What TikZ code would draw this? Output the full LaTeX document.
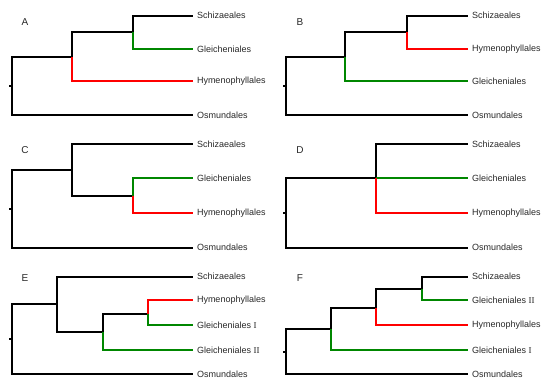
\documentclass[tikz,border=0pt]{standalone}
\usepackage{fontspec}
\setmainfont{Liberation Sans}
\newfontfamily\romnum{Liberation Serif}
\definecolor{tgreen}{RGB}{0,135,0}
\definecolor{tred}{RGB}{255,0,0}
\definecolor{ttext}{RGB}{40,40,40}
\begin{document}
\begin{tikzpicture}[x=1bp,y=-1bp,
  br/.style={line width=2bp,line join=miter},
  blk/.style={br,black},
  grn/.style={br,tgreen},
  rd/.style={br,tred},
  leaf/.style={anchor=west,inner xsep=3.5bp,inner ysep=0pt,text=ttext,font=\fontsize{9bp}{11bp}\selectfont},
  plabel/.style={text=ttext,inner sep=0pt,font=\fontsize{10bp}{12bp}\selectfont}]
\useasboundingbox (0,0) rectangle (550,386);

% ---------- Panel A ----------
\node[plabel] (labA) at (25,21.7) {A};
\coordinate (rA) at (11.7,86.2);
\coordinate (tA) at (8.7,86.2);
\coordinate (nA1) at (71.7,57.3);
\coordinate (nA2) at (133.3,32.3);
\node[leaf] (A1) at (193.3,15.7) {Schizaeales};
\node[leaf] (A2) at (193.3,49) {Gleicheniales};
\node[leaf] (A3) at (193.3,81) {Hymenophyllales};
\node[leaf] (A4) at (193.3,115) {Osmundales};
\draw[blk] (rA) -- (tA);
\draw[blk] (rA) |- (nA1);
\draw[blk] (rA) |- (A4.west);
\draw[blk] (nA1) |- (nA2);
\draw[rd] (nA1) |- (A3.west);
\draw[blk] (nA2) |- (A1.west);
\draw[grn] (nA2) |- (A2.west);

% ---------- Panel B ----------
\node[plabel] (labB) at (300,22) {B};
\coordinate (rB) at (285.7,86.2);
\coordinate (tB) at (282.7,86.2);
\coordinate (nB1) at (345,57.3);
\coordinate (nB2) at (406.7,32.3);
\node[leaf] (B1) at (468.3,15.7) {Schizaeales};
\node[leaf] (B2) at (468.3,49) {Hymenophyllales};
\node[leaf] (B3) at (468.3,81) {Gleicheniales};
\node[leaf] (B4) at (468.3,115) {Osmundales};
\draw[blk] (rB) -- (tB);
\draw[blk] (rB) |- (nB1);
\draw[blk] (rB) |- (B4.west);
\draw[blk] (nB1) |- (nB2);
\draw[grn] (nB1) |- (B3.west);
\draw[blk] (nB2) |- (B1.west);
\draw[rd] (nB2) |- (B2.west);

% ---------- Panel C ----------
\node[plabel] (labC) at (25,150) {C};
\coordinate (rC) at (11.7,208.9);
\coordinate (tC) at (8.7,208.9);
\coordinate (nC1) at (71.7,170);
\coordinate (nC2) at (133.3,195.7);
\node[leaf] (C1) at (193.3,144.3) {Schizaeales};
\node[leaf] (C2) at (193.3,178.3) {Gleicheniales};
\node[leaf] (C3) at (193.3,213.3) {Hymenophyllales};
\node[leaf] (C4) at (193.3,247.7) {Osmundales};
\draw[blk] (rC) -- (tC);
\draw[blk] (rC) |- (nC1);
\draw[blk] (rC) |- (C4.west);
\draw[blk] (nC1) |- (C1.west);
\draw[blk] (nC1) |- (nC2);
\draw[grn] (nC2) |- (C2.west);
\draw[rd] (nC2) |- (C3.west);

% ---------- Panel D ----------
\node[plabel] (labD) at (300,150) {D};
\coordinate (rD) at (286,213);
\coordinate (tD) at (283,213);
\coordinate (nD) at (376,178.3);
\node[leaf] (D1) at (468.3,144.3) {Schizaeales};
\node[leaf] (D2) at (468.3,178.3) {Gleicheniales};
\node[leaf] (D3) at (468.3,213.3) {Hymenophyllales};
\node[leaf] (D4) at (468.3,247.7) {Osmundales};
\draw[blk] (rD) -- (tD);
\draw[blk] (rD) |- (nD);
\draw[blk] (rD) |- (D4.west);
\draw[blk] (nD) |- (D1.west);
\draw[grn] (nD) -- (D2.west);
\draw[rd] (nD) |- (D3.west);

% ---------- Panel E ----------
\node[plabel] (labE) at (25,278.5) {E};
\coordinate (rE) at (11.7,339.3);
\coordinate (tE) at (8.7,339.3);
\coordinate (nE1) at (57.3,304.3);
\coordinate (nE2) at (102.7,332);
\coordinate (nE3) at (147.7,313.7);
\node[leaf] (E1) at (193.3,276.5) {Schizaeales};
\node[leaf] (E2) at (193.3,300.3) {Hymenophyllales};
\node[leaf] (E3) at (193.3,325.3) {Gleicheniales {\romnum I}};
\node[leaf] (E4) at (193.3,350.3) {Gleicheniales {\romnum II}};
\node[leaf] (E5) at (193.3,374.3) {Osmundales};
\draw[blk] (rE) -- (tE);
\draw[blk] (rE) |- (nE1);
\draw[blk] (rE) |- (E5.west);
\draw[blk] (nE1) |- (E1.west);
\draw[blk] (nE1) |- (nE2);
\draw[blk] (nE2) |- (nE3);
\draw[grn] (nE2) |- (E4.west);
\draw[rd] (nE3) |- (E2.west);
\draw[grn] (nE3) |- (E3.west);

% ---------- Panel F ----------
\node[plabel] (labF) at (300,278) {F};
\coordinate (rF) at (286,351.5);
\coordinate (tF) at (283,351.5);
\coordinate (nF1) at (331,328.7);
\coordinate (nF2) at (376,307.7);
\coordinate (nF3) at (421.7,288.7);
\node[leaf] (F1) at (468.3,276.5) {Schizaeales};
\node[leaf] (F2) at (468.3,300.3) {Gleicheniales {\romnum II}};
\node[leaf] (F3) at (468.3,325.3) {Hymenophyllales};
\node[leaf] (F4) at (468.3,350.3) {Gleicheniales {\romnum I}};
\node[leaf] (F5) at (468.3,374.3) {Osmundales};
\draw[blk] (rF) -- (tF);
\draw[blk] (rF) |- (nF1);
\draw[blk] (rF) |- (F5.west);
\draw[blk] (nF1) |- (nF2);
\draw[grn] (nF1) |- (F4.west);
\draw[blk] (nF2) |- (nF3);
\draw[rd] (nF2) |- (F3.west);
\draw[blk] (nF3) |- (F1.west);
\draw[grn] (nF3) |- (F2.west);
\end{tikzpicture}
\end{document}
